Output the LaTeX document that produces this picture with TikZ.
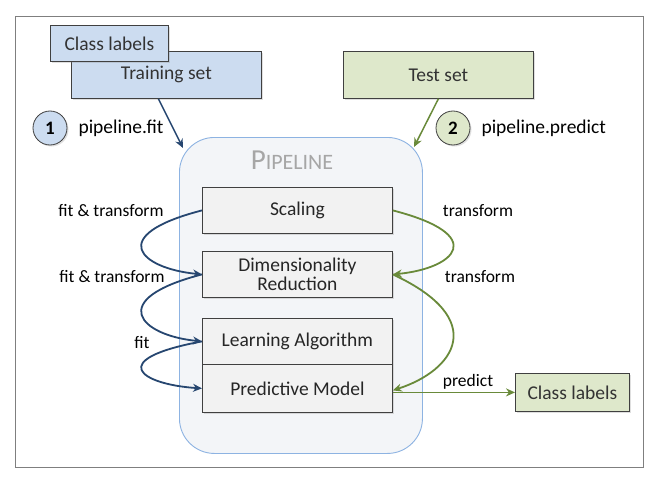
\documentclass[tikz,border=0pt]{standalone}
\usepackage{fontspec}
\setmainfont{Carlito}
\usetikzlibrary{arrows.meta,shadows}
\definecolor{framec}{HTML}{7F7F7F}
\definecolor{bluefill}{HTML}{CCDCF0}
\definecolor{greenfill}{HTML}{DEE8CB}
\definecolor{bluearrow}{HTML}{264670}
\definecolor{greenarrow}{HTML}{698A3A}
\definecolor{pipefill}{HTML}{F3F5F8}
\definecolor{pipeedge}{HTML}{8DB3E2}
\definecolor{stepfill}{HTML}{F2F2F2}
\definecolor{boxedge}{HTML}{404040}
\definecolor{titlegray}{HTML}{A6A6A6}
\begin{document}
\begin{tikzpicture}[x=1pt,y=-1pt,
  mainfont/.style={font=\fontsize{19.5}{22}\selectfont},
  lblfont/.style={font=\fontsize{17.5}{20}\selectfont},
  shad/.style={drop shadow={opacity=0.25,shadow xshift=1.5pt,shadow yshift=-1.5pt}},
  databox/.style={draw=boxedge,line width=0.8pt,rectangle,inner sep=0pt,anchor=north west,mainfont,text=black!80,shad},
  stepbox/.style={draw=boxedge,line width=0.8pt,fill=stepfill,rectangle,inner sep=0pt,anchor=north west,
    minimum width=190pt,mainfont,text=black!85,align=center,shad},
  numcirc/.style={circle,draw=boxedge,line width=0.8pt,minimum size=34pt,inner sep=0pt,
    font=\fontsize{19}{22}\selectfont\bfseries,shad},
  lbl/.style={lblfont,text=black},
  bluearr/.style={draw=bluearrow,line width=1.8pt,-{Stealth[length=9pt,width=8pt]}},
  greenarr/.style={draw=greenarrow,line width=1.8pt,-{Stealth[length=9pt,width=8pt]}}]
\useasboundingbox (0,0) rectangle (654,487);
\draw[framec,line width=0.9pt,fill=white] (15,16) rectangle (643,467);

% pipeline container
\node[draw=pipeedge,fill=pipefill,line width=0.9pt,rounded corners=35pt,rectangle,
  minimum width=243pt,minimum height=316pt,anchor=north west,inner sep=0pt] (pipe) at (179,137) {};
\node[text=titlegray,anchor=center] (ptitle) at (292,160)
  {\fontsize{29}{29}\selectfont P\fontsize{22}{22}\selectfont IPELINE};

% data boxes
\node[databox,fill=bluefill,minimum width=190pt,minimum height=47pt] (train) at (71,51) {\raisebox{-2pt}{Training set}};
\node[databox,fill=bluefill,minimum width=118pt,minimum height=36pt] (cls) at (50,25) {Class labels};
\node[databox,fill=greenfill,minimum width=190pt,minimum height=47pt] (test) at (343,51) {\raisebox{-2pt}{Test set}};
\node[databox,fill=greenfill,minimum width=114pt,minimum height=38pt] (out) at (515,373) {Class labels};

% steps
\node[stepbox,minimum height=46pt] (sc) at (202,187) {Scaling};
\node[stepbox,minimum height=46pt] (dr) at (202,251) {Dimensionality\\[-3pt]Reduction};
\node[stepbox,minimum height=46pt] (la) at (202,318) {Learning Algorithm};
\node[stepbox,minimum height=48pt] (pm) at (202,364) {Predictive Model};

% circles and step labels
\node[numcirc,fill=bluefill] (c1) at (50,128) {1};
\node[lbl,anchor=west,font=\fontsize{19.5}{22}\selectfont] (fitlbl) at (75,128) {pipeline.fit};
\node[numcirc,fill=greenfill] (c2) at (453,128) {2};
\node[lbl,anchor=west,font=\fontsize{19.5}{22}\selectfont] (predlbl) at (478,128) {pipeline.predict};

% entry arrows
\coordinate (fitend) at (183,148);
\coordinate (predend) at (414,147);
\draw[bluearr,line width=1.5pt] ([xshift=-8pt]train.south) -- (fitend);
\draw[greenarr,line width=1.5pt] (test.south) -- (predend);

% blue loops
\draw[bluearr] (sc.west) .. controls +(-97,25) and +(-62,-6) .. (dr.west);
\draw[bluearr] (dr.west) .. controls +(-97,25) and +(-62,-6) .. (la.west);
\draw[bluearr] (la.west) .. controls +(-97,18) and +(-62,-4) .. (pm.west);
\node[lbl] (l1) at (111,211) {fit \& transform};
\node[lbl] (l2) at (112,277) {fit \& transform};
\node[lbl] (l3) at (142,343) {fit};

% green loops
\draw[greenarr] (sc.east) .. controls +(97,25) and +(62,-6) .. (dr.east);
\draw[greenarr] (dr.east) .. controls +(97,45) and +(62,-20) .. ([yshift=-2pt]pm.east);
\draw[greenarr] ([yshift=-4pt]pm.east) -- ([yshift=-4pt]pm.east -| out.west);
\node[lbl] (r1) at (478,211) {transform};
\node[lbl] (r2) at (480,277) {transform};
\node[lbl] (r3) at (468,382) {predict};
\end{tikzpicture}
\end{document}
